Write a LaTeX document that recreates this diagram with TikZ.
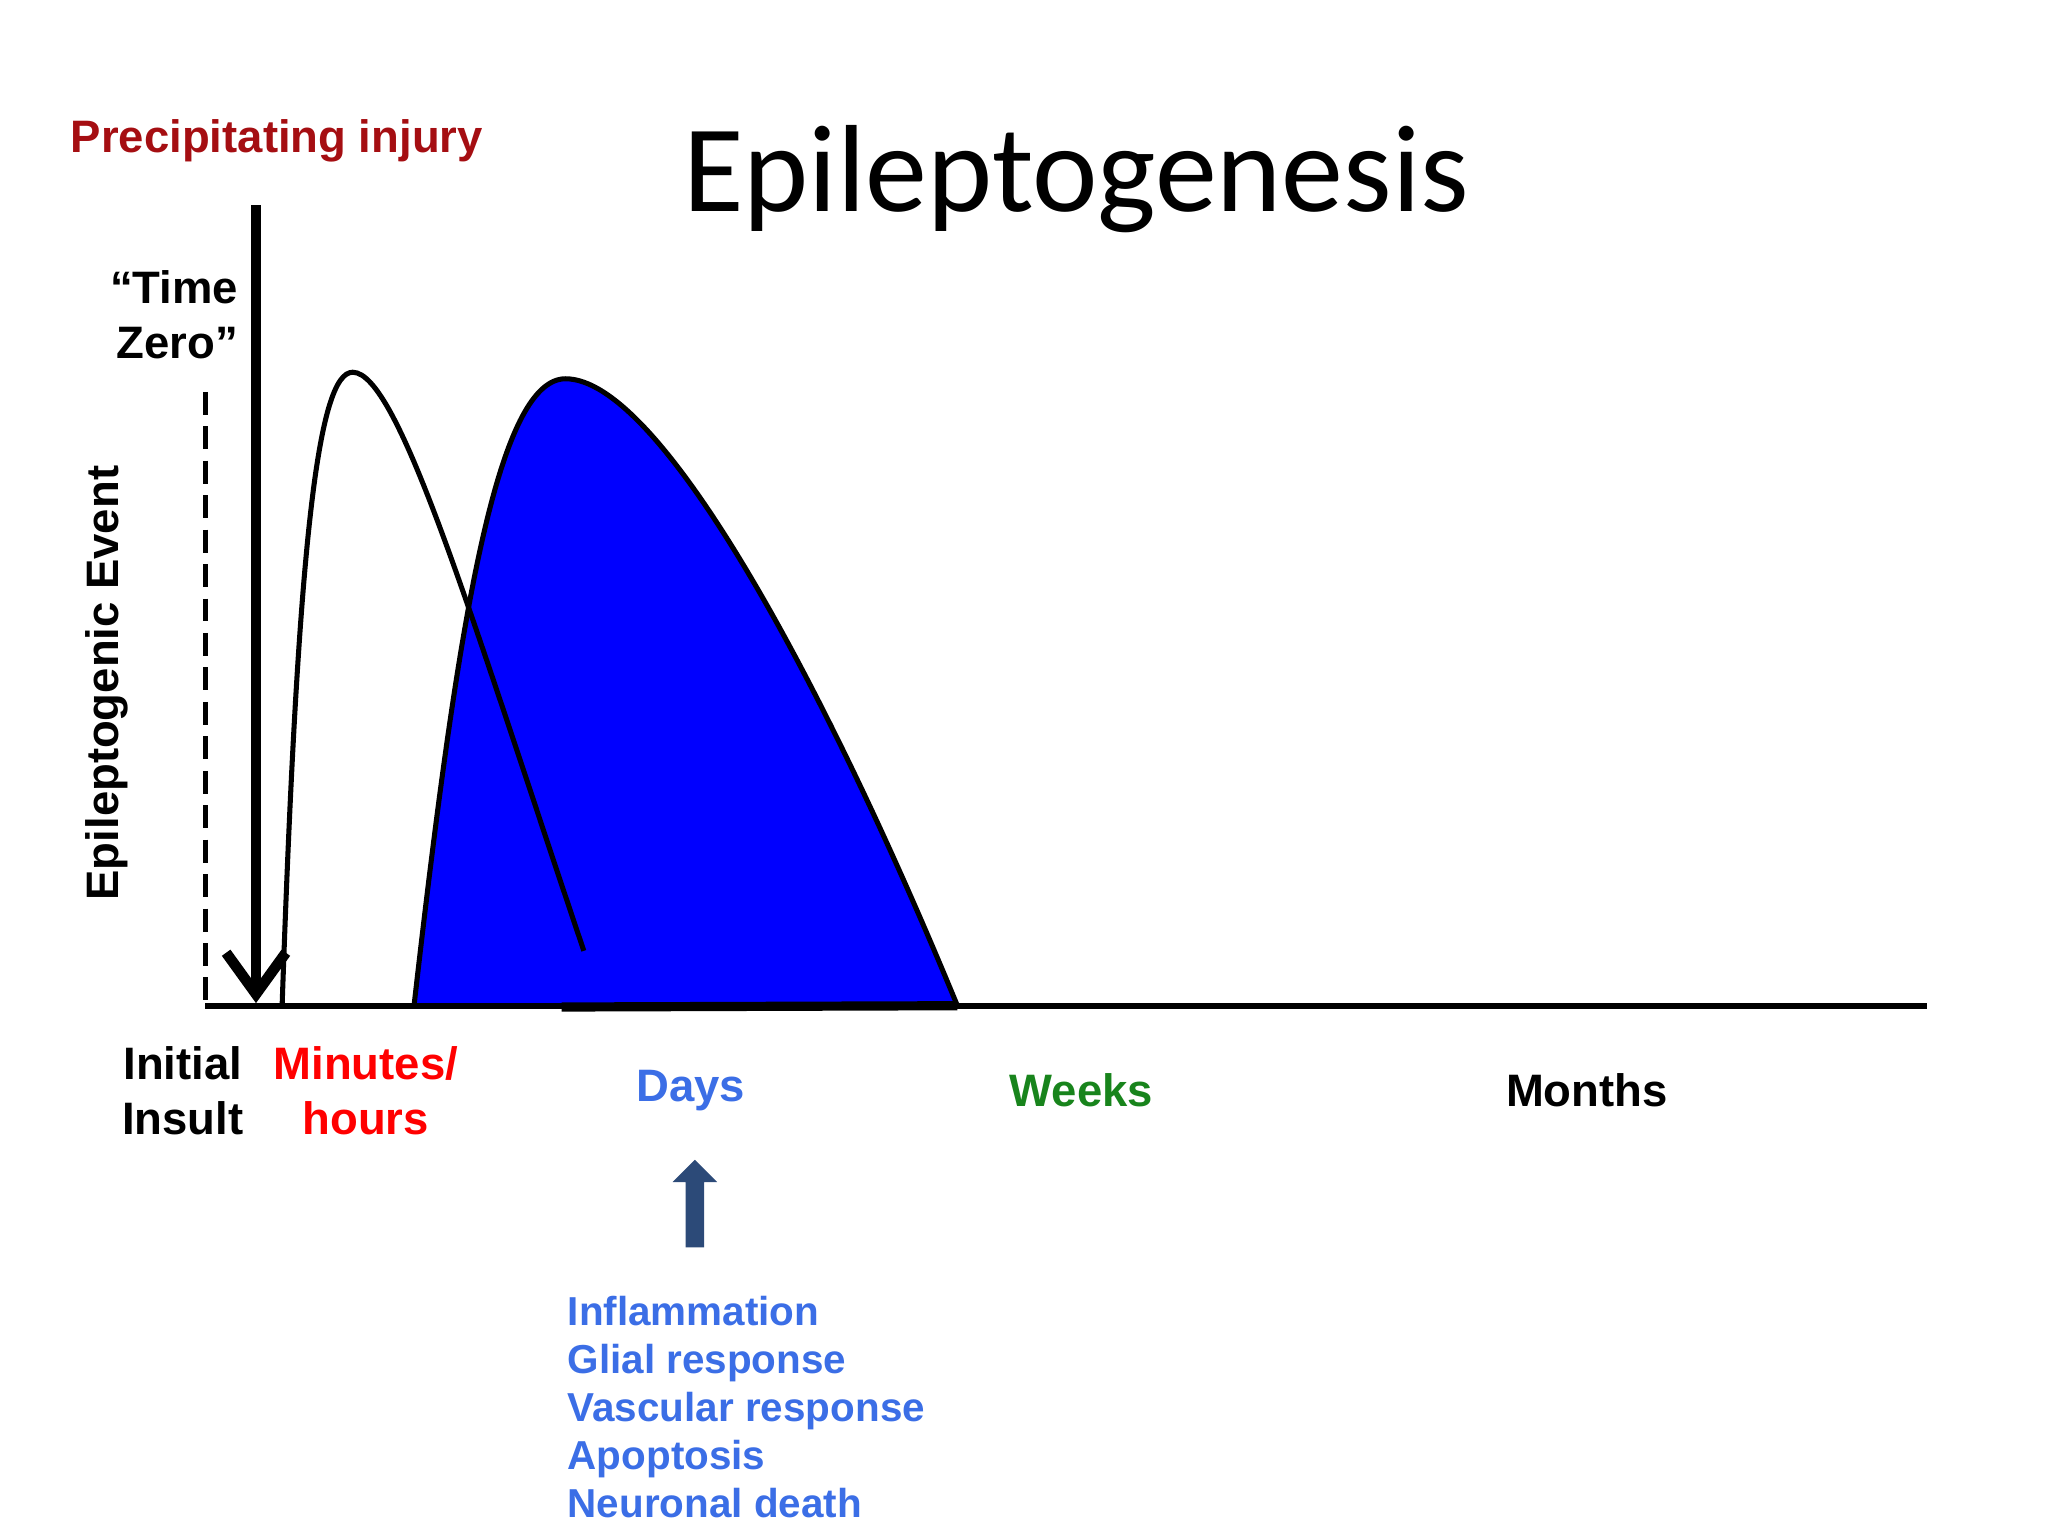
\documentclass[tikz,border=0pt]{standalone}
\usepackage{fontspec}
\setmainfont{Liberation Sans}
\newfontfamily\titlefont{Carlito}
\usetikzlibrary{arrows.meta}
\definecolor{darkred}{HTML}{A50E12}
\definecolor{lblue}{HTML}{3B6EE6}
\definecolor{wgreen}{HTML}{18841C}
\definecolor{slate}{HTML}{2C4A78}
\tikzset{lbl/.style={font=\fontsize{9.9}{11.9}\selectfont\bfseries,align=center,inner sep=0pt},
 curve/.style={line width=1.1pt}}
\begin{document}
\begin{tikzpicture}[x=0.01cm,y=-0.01cm]
\useasboundingbox (0,0) rectangle (1568,1176);
% title
\node[font=\titlefont\fontsize{27}{31}\selectfont,inner sep=0pt] (title) at (824,137) {Epileptogenesis};
\node[lbl,text=darkred] (prec) at (212,108) {Precipitating injury};
\node[lbl,align=right,anchor=east] (tz) at (183,241) {“Time\\ Zero”};
\node[lbl,rotate=90] (ylab) at (82,523) {Epileptogenic Event};
% blue hump
\coordinate (b0) at (317,770); \coordinate (bp) at (433,290); \coordinate (b1) at (733,770);
\fill[blue] (b0) .. controls (350,480) and (380,290) .. (bp) .. controls (505,290) and (630,520) .. (b1) -- cycle;
\draw[curve] (b0) .. controls (350,480) and (380,290) .. (bp) .. controls (505,290) and (630,520) .. (b1);
\draw[line width=2pt] (430,771) -- (b1);
% white hump
\coordinate (w0) at (216,770); \coordinate (wp) at (270,285); \coordinate (w1) at (447,728);
\draw[curve] (w0) .. controls (228,420) and (243,285) .. (wp) .. controls (305,285) and (360,470) .. (w1);
% axes
\coordinate (ax0) at (157,770); \coordinate (ax1) at (1475,770);
\draw[line width=1.3pt] (ax0) -- (ax1);
\coordinate (d0) at (157,300);
\draw[line width=1.1pt,dash pattern=on 5pt off 2.5pt] (d0) -- (ax0);
\coordinate (a0) at (196,157); \coordinate (a1) at (196,768);
\draw[line width=2.3pt,-{Straight Barb[length=9pt,width=13pt,line width=2.3pt]}] (a0) -- (a1);
% time labels
\node[lbl] (ii) at (140,835) {Initial\\Insult};
\node[lbl,text=red] (mh) at (280,835) {Minutes/\\hours};
\node[lbl,text=lblue] (days) at (529,835) {Days};
\node[lbl,text=wgreen] (weeks) at (828,835) {Weeks};
\node[lbl] (months) at (1215,835) {Months};
% up arrow
\fill[slate] (525,955) -- (539,955) -- (539,905) -- (549,905) -- (532,888) -- (515,905) -- (525,905) -- cycle;
\node[lbl,text=lblue,align=left,anchor=north west,font=\fontsize{8.8}{10.45}\selectfont\bfseries] (list) at (434,992) {Inflammation\\Glial response\\Vascular response\\Apoptosis\\Neuronal death};
\end{tikzpicture}
\end{document}
